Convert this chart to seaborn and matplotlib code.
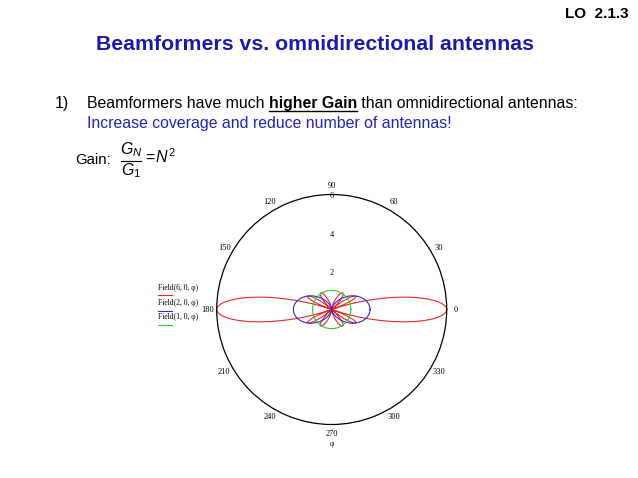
import numpy as np
import pandas as pd
import matplotlib
matplotlib.use("Agg")
import matplotlib.pyplot as plt
from matplotlib.lines import Line2D
import seaborn as sns

# array sizes shown in the legend: Field(N, 0, phi)
n_elements = [6, 2, 1]
series_labels = ["Field(6, 0, \u03c6)", "Field(2, 0, \u03c6)", "Field(1, 0, \u03c6)"]
angle_ticks = list(range(0, 360, 30))
radius_ticks = [2, 4, 6]
r_max = 6

W, H = 638, 478


def field(n, phi):
    # array factor of n isotropic elements, half-wave spacing
    psi = np.pi / 2 * np.sin(phi)
    den = np.sin(psi)
    small = np.abs(den) < 1e-9
    out = np.where(small, n, np.sin(n * psi) / np.where(small, 1, den))
    return np.abs(out)


phi = np.linspace(0, 2 * np.pi, 1441)
frames = []
for n, lab in zip(n_elements, series_labels):
    frames.append(pd.DataFrame({"phi": phi, "r": field(n, phi), "series": lab}))
df = pd.concat(frames, ignore_index=True)

colors = ["#e8262a", "#2b2bd0", "#2ccc2c"]
pal = dict(zip(series_labels, colors))

plt.rcParams["font.family"] = ["Liberation Sans", "DejaVu Sans"]
plt.rcParams["mathtext.fontset"] = "custom"
plt.rcParams["mathtext.rm"] = "Liberation Sans"
plt.rcParams["mathtext.it"] = "Liberation Sans:italic"


def fx(x):
    return x / W


def fy(y):
    return 1 - y / H


fig = plt.figure(figsize=(W / 100, H / 100), dpi=100)

cx, cy, rad = 331.7, 309.5, 115
ax = fig.add_axes([fx(cx - rad), fy(cy + rad), 2 * rad / W, 2 * rad / H], projection="polar")
sns.lineplot(data=df, x="phi", y="r", hue="series", palette=pal, sort=False,
             estimator=None, units="series", linewidth=0.8, legend=False, ax=ax)
ax.set_ylim(0, r_max)
ax.grid(False)
ax.set_xlabel("")
ax.set_ylabel("")
ax.set_xticks([])
ax.set_yticks([])
ax.spines["polar"].set_linewidth(0.9)
ax.spines["polar"].set_color("black")

serif = "Liberation Serif"
for a in angle_ticks:
    ax.text(np.deg2rad(a), r_max * 124 / rad, str(a), fontsize=6, family=serif,
            ha="center", va="center", clip_on=False)
for r in radius_ticks:
    ax.text(np.pi / 2, r - 0.1, str(r), fontsize=6, family=serif,
            ha="center", va="center")

fig.text(fx(cx), fy(444), "\u03c6", fontsize=5.5, family=serif,
         ha="center", va="center")

# legend: label over a short coloured line
leg_y = [287.7, 303.3, 317.3]
for lab, col, yy in zip(series_labels, colors, leg_y):
    fig.text(fx(158), fy(yy), lab, fontsize=5.5, family=serif,
             ha="left", va="center")
    fig.add_artist(Line2D([fx(158), fx(172)], [fy(yy + 7.5), fy(yy + 7.5)],
                          color=col, linewidth=0.8, transform=fig.transFigure))

# slide texts
fig.text(fx(565), fy(14), "LO  2.1.3", fontsize=11, fontweight="bold",
         ha="left", va="center")
fig.text(fx(315.5), fy(45), "Beamformers vs. omnidirectional antennas",
         fontsize=15.3, fontweight="bold", color="#1a1aa8", ha="center", va="center")
fig.text(fx(55), fy(108), "1)", fontsize=11.4, ha="left", va="baseline")

fig.canvas.draw()
renderer = fig.canvas.get_renderer()
x = 87
pieces = [("Beamformers have much ", "normal"), ("higher Gain", "bold"),
          (" than omnidirectional antennas:", "normal")]
for txt, wt in pieces:
    t = fig.text(fx(x), fy(108), txt, fontsize=11.4, fontweight=wt,
                 ha="left", va="baseline")
    bb = t.get_window_extent(renderer)
    if wt == "bold":
        fig.add_artist(Line2D([fx(x), fx(x + bb.width)], [fy(110.5), fy(110.5)],
                              color="black", linewidth=1.0, transform=fig.transFigure))
    x += bb.width

fig.text(fx(87), fy(128), "Increase coverage and reduce number of antennas!",
         fontsize=11.4, color="#2323b4", ha="left", va="baseline")

# gain formula
fig.text(fx(75), fy(160), "Gain:", fontsize=10.8, ha="left", va="center")
fig.text(fx(131), fy(150), r"$G_N$", fontsize=11.5, ha="center", va="center")
fig.add_artist(Line2D([fx(121), fx(141)], [fy(160.5), fy(160.5)],
                      color="black", linewidth=0.8, transform=fig.transFigure))
fig.text(fx(131), fy(171), r"$G_1$", fontsize=11.5, ha="center", va="center")
fig.text(fx(143), fy(157), r"$=\!N^2$", fontsize=11.5, ha="left", va="center")

fig.savefig("out.png", dpi=100)
